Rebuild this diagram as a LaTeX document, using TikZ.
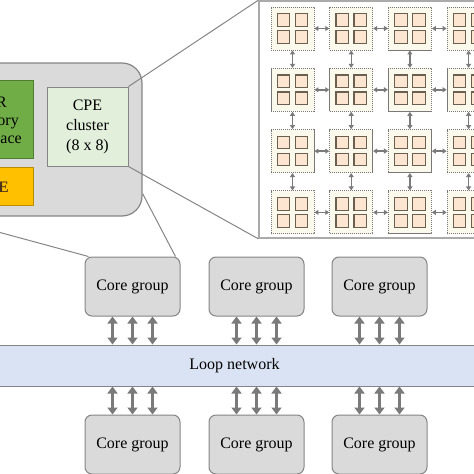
\documentclass[tikz,border=0pt]{standalone}
\usepackage{fontspec}
\setmainfont{Liberation Serif}
\usepackage{xcolor}
\usetikzlibrary{arrows.meta,positioning,shapes,fit,calc}

\definecolor{boxgray}{HTML}{DADADA}
\definecolor{linegray}{HTML}{858585}
\definecolor{busgray}{HTML}{7A7A7A}
\definecolor{memgreen}{HTML}{70AD47}
\definecolor{memgreendark}{HTML}{4E7F31}
\definecolor{mpeorange}{HTML}{FFC000}
\definecolor{mpeorangedark}{HTML}{BC8C00}
\definecolor{cpegreen}{HTML}{E2EFDA}
\definecolor{loopblue}{HTML}{DAE3F3}
\definecolor{cellcream}{HTML}{FBF8EC}
\definecolor{corepeach}{HTML}{FCE6D2}
\definecolor{corebrown}{HTML}{6B5F50}

\begin{document}
\begin{tikzpicture}[x=1pt,y=-1pt,font=\fontsize{16}{20}\selectfont,
  big node/.style={draw=linegray,fill=boxgray,line width=1.2pt,rounded corners=20pt,minimum width=200pt,minimum height=153pt,inner sep=0pt},
  group node/.style={draw=linegray,fill=boxgray,line width=1pt,rounded corners=7pt,minimum width=95pt,minimum height=59pt,inner sep=0pt},
  cell node/.style={draw=linegray!90!black,fill=cellcream,line width=0.9pt,dash pattern=on 1.2pt off 0.8pt,minimum size=43pt,inner sep=0pt},
  core node/.style={draw=corebrown,fill=corepeach,line width=1.2pt,minimum size=12.5pt,inner sep=0pt},
  bus/.style={busgray,line width=3pt,{Triangle[width=10pt,length=7pt]}-{Triangle[width=10pt,length=7pt]}},
  link/.style={busgray,line width=1.4pt,{Triangle[width=5pt,length=4pt]}-{Triangle[width=5pt,length=4pt]}},
  zoom line/.style={linegray,line width=1pt}]
\useasboundingbox (0,0) rectangle (474,474);
\clip (0,0) rectangle (474,474);

% core group in detail
\node[big node] (cg) at (42,139.5){};
\node[draw=memgreendark,fill=memgreen,line width=1pt,minimum width=83pt,minimum height=78pt] (mem) at (-8.5,119){};
\node[anchor=base east,inner sep=0pt] at (7,107){R};
\node[anchor=base east,inner sep=0pt] at (19,125){ory};
\node[anchor=base east,inner sep=0pt] at (22,143){ace};
\node[draw=mpeorangedark,fill=mpeorange,line width=1pt,minimum width=83pt,minimum height=38pt] (mpe) at (-8.5,186){};
\node[anchor=base east,inner sep=0pt,text=brown!40!black,font=\fontsize{16}{20}\selectfont\bfseries] at (9,192){E};
\node[draw=linegray,fill=cpegreen,line width=1pt,minimum width=81pt,minimum height=79pt,align=center,inner sep=0pt] (cpe) at (87.5,126.5){CPE\\cluster\\(8 x 8)};

% CPE array
\node[draw=linegray!70,fill=white,line width=1.5pt,minimum width=271pt,minimum height=237pt] (array) at (394.5,119.5){};
\foreach \i in {1,...,4}
  \foreach \j in {1,...,4}{
    \node[cell node] (c\i\j) at ({292.5+58.7*(\i-1)},{28.5+61.3*(\j-1)}){};
    \node[core node] at ($(c\i\j)+(-9,-8.5)$){};
    \node[core node] at ($(c\i\j)+(9,-8.5)$){};
    \node[core node] at ($(c\i\j)+(-9,8.5)$){};
    \node[core node] at ($(c\i\j)+(9,8.5)$){};
  }
\foreach \i/\k in {1/2,2/3,3/4}
  \foreach \j in {1,...,4}{
    \draw[link] (c\i\j) -- (c\k\j);
    \draw[link] (c\j\i) -- (c\j\k);
  }
\draw[zoom line] (cpe.north east) -- (array.north west);
\draw[zoom line] (cpe.south east) -- (array.south west);

% core groups and loop network
\node[group node] (u1) at (132.5,286.5){Core group};
\node[group node] (u2) at (256.5,286.5){Core group};
\node[group node] (u3) at (379.5,286.5){Core group};
\node[group node] (d1) at (132.5,444.5){Core group};
\node[group node] (d2) at (256.5,444.5){Core group};
\node[group node] (d3) at (379.5,444.5){Core group};
\node[draw=linegray,fill=loopblue,line width=1pt,minimum width=500pt,minimum height=41pt] (loop) at (234.5,365.5){Loop network};

\foreach \g in {1,2,3}
  \foreach \dx in {-20,0,20}{
    \draw[bus] ([xshift=\dx pt]u\g.south) -- ([xshift=\dx pt]u\g.south |- loop.north);
    \draw[bus] ([xshift=\dx pt]d\g.north |- loop.south) -- ([xshift=\dx pt]d\g.north);
  }

\coordinate (cgcorner) at ([yshift=23pt]cg.south east);
\draw[zoom line] (cg.south west) -- ([xshift=4pt]u1.north west);
\draw[zoom line] (cgcorner) -- ([xshift=-5pt]u1.north east);
\end{tikzpicture}
\end{document}
